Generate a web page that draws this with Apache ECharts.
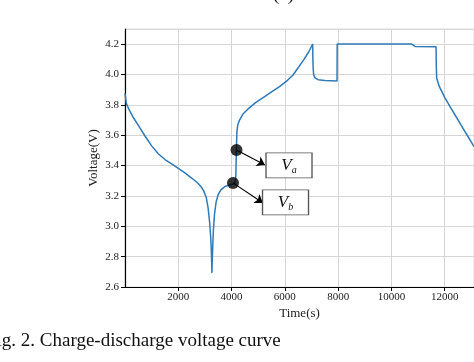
<!DOCTYPE html>
<html><head><meta charset="utf-8">
<script src="https://cdn.jsdelivr.net/npm/echarts@6/dist/echarts.min.js"></script>
<style>html,body{margin:0;padding:0;background:#fff;}#c{width:474px;height:362px;}</style>
</head><body><div id="c"></div>
<script>
// Time (s)
const times = [0, 50, 150, 300, 500, 750, 1000, 1250, 1500, 1750, 2000, 2250, 2500, 2700, 2850, 2950, 3050, 3120, 3180, 3220, 3245, 3262,
  3270, 3290, 3320, 3360, 3420, 3500, 3600, 3750, 3950, 4120, 4160, 4180, 4200, 4230, 4300, 4420, 4600, 4900, 5200, 5500, 5800, 6100, 6300, 6500, 6700, 6900, 7046,
  7050, 7060, 7080, 7130, 7250, 7500, 7959, 7965, 10763, 10887, 11675,
  11685, 11700, 11800, 12000, 12200, 12400, 12600, 12800, 13000, 13100];
// Voltage (V)
const volts = [3.876, 3.810, 3.770, 3.720, 3.665, 3.595, 3.530, 3.478, 3.440, 3.412, 3.382, 3.352, 3.318, 3.290, 3.262, 3.235, 3.190, 3.120, 3.020, 2.920, 2.820, 2.693,
  2.750, 2.850, 2.980, 3.080, 3.160, 3.210, 3.240, 3.262, 3.274, 3.281, 3.330, 3.500, 3.620, 3.665, 3.700, 3.738, 3.770, 3.815, 3.850, 3.885, 3.920, 3.962, 3.995, 4.045, 4.095, 4.150, 4.201,
  4.120, 4.050, 4.000, 3.978, 3.966, 3.960, 3.958, 4.201, 4.201, 4.185, 4.183,
  4.050, 3.975, 3.920, 3.850, 3.788, 3.730, 3.672, 3.613, 3.555, 3.525];
// Annotation points (time, voltage) and label boxes
const annotPoints = [[4185, 3.503], [4054, 3.286]];
const annotArrowEnds = [[5255, 3.404], [5180, 3.154]];
const annotBoxes = [[6156, 3.401], [6025, 3.157]];
const annotLabels = ['a', 'b'];
const xTitle = 'Time(s)';
const yTitle = 'Voltage(V)';
const caption = 'Fig. 2. Charge-discharge voltage curve';
const panelTitle = '(a)';

const serif = '"Liberation Serif", "DejaVu Serif", serif';
const chart = echarts.init(document.getElementById('c'));
const lineData = times.map((t, i) => [t, volts[i]]);

chart.setOption({
  animation: false,
  backgroundColor: '#fff',
  grid: { left: 125, top: 29, right: 0, bottom: 75, show: true, borderColor: '#dcdcdc', borderWidth: 1 },
  xAxis: {
    type: 'value', min: 0, max: 13100, interval: 2000,
    name: xTitle, nameLocation: 'middle', nameGap: 20, nameMoveOverlap: false,
    nameTextStyle: { fontFamily: serif, fontSize: 13, color: '#222' },
    axisLine: { show: true, lineStyle: { color: '#000', width: 1.2 } },
    axisTick: { show: true, length: 4, lineStyle: { color: '#000' } },
    axisLabel: { showMinLabel: false, showMaxLabel: false, fontFamily: serif, fontSize: 11, color: '#222', margin: 5,
      formatter: v => String(Math.round(v)) },
    splitLine: { show: true, lineStyle: { color: '#d6d6d6', width: 1 } }
  },
  yAxis: {
    type: 'value', min: 2.6, max: 4.3, interval: 0.2,
    name: yTitle, nameLocation: 'middle', nameGap: 25, nameRotate: 90, nameMoveOverlap: false,
    nameTextStyle: { fontFamily: serif, fontSize: 13, color: '#222' },
    axisLine: { show: true, lineStyle: { color: '#000', width: 1.2 } },
    axisTick: { show: true, length: 4, lineStyle: { color: '#000' } },
    axisLabel: { showMaxLabel: false, fontFamily: serif, fontSize: 11, color: '#222', margin: 6,
      formatter: v => v.toFixed(1) },
    splitLine: { show: true, lineStyle: { color: '#d6d6d6', width: 1 } }
  },
  series: [
    {
      type: 'line', data: lineData, showSymbol: false, z: 2,
      lineStyle: { color: '#2f7ab9', width: 1.5 },
      markLine: {
        silent: true, symbol: ['none', 'arrow'], symbolSize: 8, animation: false,
        label: { show: false },
        lineStyle: { color: '#000', width: 1.1, type: 'solid' },
        emphasis: { disabled: true },
        data: annotPoints.map((p, i) => [{ coord: p }, { coord: annotArrowEnds[i] }])
      }
    },
    {
      type: 'scatter', z: 5, silent: true,
      data: annotPoints, symbolSize: 12,
      itemStyle: { color: '#000' },
      markPoint: {
        silent: true, symbol: 'rect', symbolSize: [46, 25],
        itemStyle: { color: '#fff', borderColor: '#555', borderWidth: 1 },
        label: {
          show: true, position: 'inside',
          formatter: p => '{v|V}{s|' + p.name + '}',
          rich: {
            v: { fontFamily: serif, fontStyle: 'italic', fontSize: 17, color: '#111' },
            s: { fontFamily: serif, fontStyle: 'italic', fontSize: 10, color: '#111', padding: [9, 0, 0, 0] }
          }
        },
        data: annotBoxes.map((b, i) => ({ coord: b, name: annotLabels[i] }))
      }
    }
  ],
  graphic: [
    { type: 'text', left: -14, top: 332, style: { text: caption, font: '19px ' + serif, fill: '#111' } },
    { type: 'text', left: 273, top: -14, style: { text: panelTitle, font: '19px ' + serif, fill: '#111' } }
  ]
});
</script></body></html>
